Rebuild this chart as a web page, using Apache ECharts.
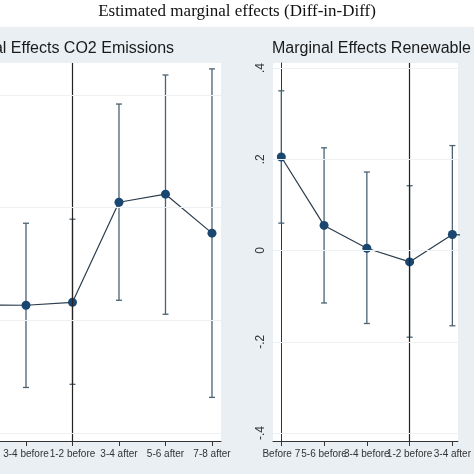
<!DOCTYPE html>
<html><head><meta charset="utf-8">
<script src="https://cdn.jsdelivr.net/npm/echarts@6/dist/echarts.min.js"></script>
<style>html,body{margin:0;padding:0;background:#fff}#c{width:474px;height:474px}</style>
</head><body><div id="c"></div>
<script>
const categories = ['Before 7','5-6 before','3-4 before','1-2 before','3-4 after','5-6 after','7-8 after'];
const co2Est  = [0.0065, 0.0068, 0.0067, 0.008, 0.0524, 0.056, 0.0387];
const co2Lo   = [-0.030, -0.030, -0.0298, -0.0284, 0.0089, 0.0027, -0.0342];
const co2Hi   = [0.043, 0.043, 0.0431, 0.0449, 0.096, 0.1089, 0.1116];
const renEst  = [0.205, 0.055, 0.005, -0.025, 0.035, 0.03, 0.03];
const renLo   = [0.06, -0.115, -0.16, -0.19, -0.165, -0.17, -0.17];
const renHi   = [0.35, 0.225, 0.172, 0.142, 0.23, 0.23, 0.23];
const renTicks = [-0.4, -0.2, 0, 0.2, 0.4];
const renTickLabels = ['-.4', '-.2', '0', '.2', '.4'];
const co2Grid = [-0.05, 0, 0.05, 0.1];

const chart = echarts.init(document.getElementById('c'));
const idx = categories.map((_, i) => i);
const navy = '#1a476f', bar = '#4a6272';

function errSeries(k, lo, hi) {
  return {
    type: 'custom', xAxisIndex: k, yAxisIndex: k, z: 3, clip: true,
    data: idx.map(i => [i, lo[i], hi[i]]),
    renderItem: (p, api) => {
      const a = api.coord([api.value(0), api.value(1)]);
      const b = api.coord([api.value(0), api.value(2)]);
      const st = {stroke: bar, lineWidth: 1.3};
      return {type: 'group', children: [
        {type: 'line', shape: {x1: a[0], y1: a[1], x2: b[0], y2: b[1]}, style: st},
        {type: 'line', shape: {x1: a[0]-3, y1: a[1], x2: a[0]+3, y2: a[1]}, style: st},
        {type: 'line', shape: {x1: b[0]-3, y1: b[1], x2: b[0]+3, y2: b[1]}, style: st}
      ]};
    }
  };
}
function lineSeries(k, est, grid) {
  return {
    type: 'line', xAxisIndex: k, yAxisIndex: k, z: 4, clip: true,
    data: idx.map(i => [i, est[i]]),
    symbol: 'circle', symbolSize: 9,
    itemStyle: {color: navy}, lineStyle: {color: '#2b3d4d', width: 1.2},
    markLine: {silent: true, symbol: 'none', label: {show: false},
      data: [{xAxis: 3, lineStyle: {color: '#222', width: 1.2, type: 'solid'}}]
        .concat(grid.map(v => ({yAxis: v, lineStyle: {color: '#edf1f3', width: 1, type: 'solid'}})))}
  };
}
function xAxis(k, min, max) {
  const vis = idx.filter(i => i >= min && i <= max);
  return {
    gridIndex: k, type: 'value', min: min, max: max,
    axisLine: {show: true, onZero: false, lineStyle: {color: '#333', width: 1}},
    axisTick: {show: true, customValues: vis, length: 5, lineStyle: {color: '#333'}},
    axisLabel: {customValues: vis, formatter: v => categories[Math.round(v)] || '', color: '#333',
      fontFamily: 'Liberation Sans', fontSize: 10, margin: 8, hideOverlap: false},
    splitLine: {show: false}
  };
}
chart.setOption({
  backgroundColor: '#fff',
  graphic: [
    {type: 'rect', shape: {x: 0, y: 27, width: 474, height: 447}, style: {fill: '#e9eff3'}, z: -10},
    {type: 'text', x: 237, y: 12, style: {text: 'Estimated marginal effects (Diff-in-Diff)', font: '17px "Liberation Serif"', fill: '#111', align: 'center', verticalAlign: 'middle'}},
    {type: 'text', x: -55, y: 49, style: {text: 'Marginal Effects CO2 Emissions', font: '16px "Liberation Sans"', fill: '#1a1a1a', verticalAlign: 'middle'}},
    {type: 'text', x: 272, y: 49, style: {text: 'Marginal Effects Renewable Energy', font: '16px "Liberation Sans"', fill: '#1a1a1a', verticalAlign: 'middle'}}
  ],
  grid: [
    {left: 0, top: 63, width: 221, height: 378, show: true, backgroundColor: '#fff', borderWidth: 0},
    {left: 273, top: 63, width: 201, height: 378, show: true, backgroundColor: '#fff', borderWidth: 0}
  ],
  xAxis: [xAxis(0, 1.441, 6.194), xAxis(1, -0.194, 4.129)],
  yAxis: [
    {gridIndex: 0, type: 'value', min: -0.05356, max: 0.11422, show: false, splitLine: {show: false}},
    {gridIndex: 1, type: 'value', min: -0.41753, max: 0.41096,
      axisLine: {show: true, lineStyle: {color: '#333'}},
      axisTick: {show: true, customValues: renTicks, length: 5, lineStyle: {color: '#333'}},
      axisLabel: {customValues: renTicks, rotate: 90, color: '#333', fontFamily: 'Liberation Sans', fontSize: 12, margin: 6,
        formatter: v => renTickLabels[renTicks.findIndex(t => Math.abs(t - v) < 1e-6)] ?? ''},
      splitLine: {show: false}}
  ],
  series: [
    errSeries(0, co2Lo, co2Hi), lineSeries(0, co2Est, co2Grid),
    errSeries(1, renLo, renHi), lineSeries(1, renEst, renTicks)
  ]
});
</script></body></html>
